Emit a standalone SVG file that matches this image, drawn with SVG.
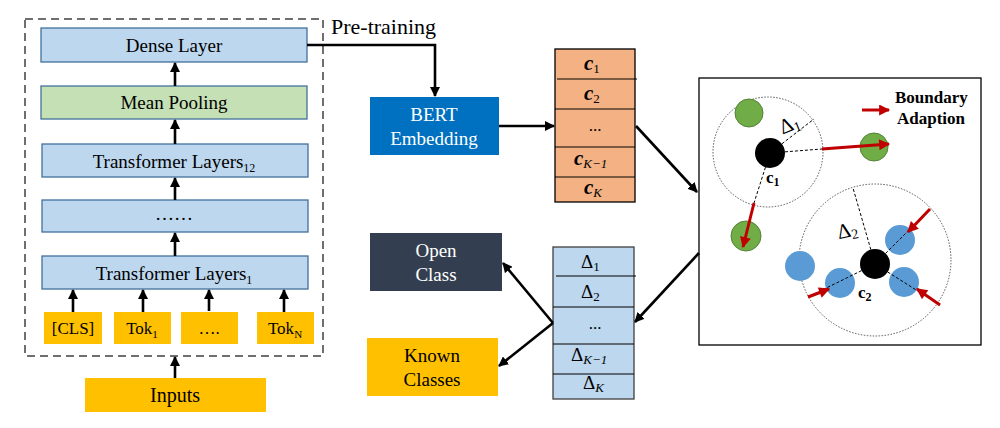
<svg xmlns="http://www.w3.org/2000/svg" width="1000" height="428" viewBox="0 0 1000 428">
<style>
.t{font-family:"Liberation Serif","Times New Roman",serif;fill:#000}
.w{fill:#fff}
.blue{fill:#BDD7EE;stroke:#41719C;stroke-width:1.3}
.green{fill:#C5E0B4;stroke:#41719C;stroke-width:1.3}
.tok{fill:#FFC000}
.ar{stroke:#000;stroke-width:2.6;fill:none}
.red{stroke:#C00000;stroke-width:3;fill:none}
.dl{stroke:#000;stroke-width:1;stroke-dasharray:3,2;fill:none}
.dot{stroke:#555;stroke-width:1;stroke-dasharray:1.5,1.5;fill:none}
.gc{fill:#70AD47;stroke:#548235;stroke-width:1}
.bc{fill:#5B9BD5}
.cm{font-family:"Liberation Serif","Times New Roman",serif;font-weight:bold;font-style:italic}
</style>
<defs>
<marker id="ah" viewBox="0 0 10 10" refX="9" refY="5" markerWidth="10" markerHeight="10" markerUnits="userSpaceOnUse" orient="auto"><path d="M0,0 L10,5 L0,10 z" fill="#000"/></marker>
<marker id="rh" viewBox="0 0 10 10" refX="9" refY="5" markerWidth="12" markerHeight="11" markerUnits="userSpaceOnUse" orient="auto"><path d="M0,0 L10,5 L0,10 z" fill="#C00000"/></marker>
</defs>
<rect width="1000" height="428" fill="#fff"/>

<g id="encoder">
<rect x="25" y="19" width="298" height="337" fill="none" stroke="#404040" stroke-width="1.5" stroke-dasharray="8,5"/>
</g>
<g id="dense"><rect class="blue" x="41" y="28" width="266" height="34"/><text class="t" x="174" y="52" font-size="19" text-anchor="middle">Dense Layer</text></g>
<g id="meanpool"><rect class="green" x="41" y="86" width="266" height="33"/><text class="t" x="174" y="109" font-size="19" text-anchor="middle">Mean Pooling</text></g>
<g id="tl12"><rect class="blue" x="42" y="144" width="266" height="33"/><text class="t" x="174" y="168" font-size="19" text-anchor="middle">Transformer Layers<tspan font-size="12" dy="4">12</tspan></text></g>
<g id="tldots"><rect class="blue" x="42" y="200" width="266" height="32"/><text class="t" x="174" y="220" font-size="19" text-anchor="middle">……</text></g>
<g id="tl1"><rect class="blue" x="42" y="256" width="266" height="33"/><text class="t" x="174" y="280" font-size="19" text-anchor="middle">Transformer Layers<tspan font-size="12" dy="4">1</tspan></text></g>
<g id="cls"><rect class="tok" x="44" y="312" width="58" height="32"/><text class="t" x="73" y="334" font-size="17" text-anchor="middle">[CLS]</text></g>
<g id="tok1"><rect class="tok" x="114" y="312" width="57" height="32"/><text class="t" x="142" y="334" font-size="17" text-anchor="middle">Tok<tspan font-size="11" dy="4">1</tspan></text></g>
<g id="tokdots"><rect class="tok" x="181" y="312" width="57" height="32"/><text class="t" x="209" y="334" font-size="17" text-anchor="middle">….</text></g>
<g id="tokN"><rect class="tok" x="257" y="312" width="57" height="32"/><text class="t" x="285" y="334" font-size="17" text-anchor="middle">Tok<tspan font-size="11" dy="4">N</tspan></text></g>
<g id="inputs"><rect class="tok" x="85" y="378" width="181" height="34"/><text class="t" x="175" y="402" font-size="20" text-anchor="middle">Inputs</text></g>

<g id="bert"><rect x="370" y="97" width="129" height="58" fill="#0070C0"/><text class="t w" x="434" y="121" font-size="19" text-anchor="middle">BERT</text><text class="t w" x="434" y="145" font-size="19" text-anchor="middle">Embedding</text></g>

<g id="centroids">
<rect x="555" y="49" width="80" height="153" fill="#F4B183" stroke="#000" stroke-width="1.3"/>
<g stroke="#000" stroke-width="1"><line x1="557" y1="79" x2="637" y2="79"/><line x1="555" y1="109" x2="635" y2="109"/><line x1="555" y1="147" x2="635" y2="147"/><line x1="555" y1="177" x2="635" y2="177"/></g>
<text class="cm" x="584" y="70" font-size="21">c<tspan font-size="13" dy="3" font-style="normal" font-weight="normal">1</tspan></text>
<text class="cm" x="584" y="100" font-size="21">c<tspan font-size="13" dy="3" font-style="normal" font-weight="normal">2</tspan></text>
<text class="t" x="595" y="131" font-size="17" text-anchor="middle">...</text>
<text class="cm" x="574" y="165" font-size="21">c<tspan font-size="13" dy="3" font-style="italic" font-weight="normal">K−1</tspan></text>
<text class="cm" x="584" y="194" font-size="21">c<tspan font-size="13" dy="3" font-weight="normal">K</tspan></text>
</g>

<g id="deltas">
<rect x="553" y="247" width="81" height="152" fill="#BDD7EE" stroke="#404040" stroke-width="1.3"/>
<g stroke="#000" stroke-width="1"><line x1="556" y1="276" x2="636" y2="276"/><line x1="553" y1="307" x2="634" y2="307"/><line x1="553" y1="344" x2="634" y2="344"/><line x1="553" y1="374" x2="634" y2="374"/></g>
<text class="t" x="581" y="268" font-size="19">Δ<tspan font-size="13" dy="3">1</tspan></text>
<text class="t" x="581" y="298" font-size="19">Δ<tspan font-size="13" dy="3">2</tspan></text>
<text class="t" x="595" y="329" font-size="17" text-anchor="middle">...</text>
<text class="t" x="571" y="361" font-size="19">Δ<tspan font-size="13" dy="3" font-style="italic">K−1</tspan></text>
<text class="t" x="583" y="389" font-size="19">Δ<tspan font-size="13" dy="3" font-style="italic">K</tspan></text>
</g>

<g id="openclass"><rect x="370" y="233" width="132" height="58" fill="#333F50"/><text class="t w" x="436" y="257" font-size="19" text-anchor="middle">Open</text><text class="t w" x="436" y="281" font-size="19" text-anchor="middle">Class</text></g>
<g id="known"><rect x="367" y="338" width="131" height="58" fill="#FFC000"/><text class="t" x="432" y="362" font-size="19" text-anchor="middle">Known</text><text class="t" x="432" y="386" font-size="19" text-anchor="middle">Classes</text></g>

<g id="panel">
<rect x="699" y="78" width="282" height="267" fill="#fff" stroke="#000" stroke-width="1.3"/>
<circle class="dot" cx="768" cy="152" r="55"/>
<circle class="dot" cx="875" cy="260" r="76"/>
<circle class="gc" cx="749" cy="113" r="14"/>
<circle class="gc" cx="874" cy="147" r="14"/>
<circle class="gc" cx="746" cy="236" r="15"/>
<circle class="bc" cx="900" cy="240" r="15"/>
<circle class="bc" cx="800" cy="266" r="15"/>
<circle class="bc" cx="840" cy="283" r="15"/>
<circle class="bc" cx="904" cy="282" r="15"/>
<line class="dl" x1="770" y1="153" x2="814" y2="119"/>
<line class="dl" x1="770" y1="153" x2="822" y2="149"/>
<line class="dl" x1="770" y1="153" x2="754" y2="203"/>
<line class="dl" x1="875" y1="264" x2="853" y2="188"/>
<line class="dl" x1="875" y1="264" x2="930" y2="209"/>
<line class="dl" x1="875" y1="264" x2="808" y2="297"/>
<line class="dl" x1="875" y1="264" x2="940" y2="305"/>
<circle cx="770" cy="153" r="15" fill="#000"/>
<circle cx="875" cy="264" r="15" fill="#000"/>
<line class="red" x1="822" y1="149" x2="889" y2="144" marker-end="url(#rh)"/>
<line class="red" x1="754" y1="203" x2="743" y2="247" marker-end="url(#rh)"/>
<line class="red" x1="930" y1="209" x2="908" y2="232" marker-end="url(#rh)"/>
<line class="red" x1="808" y1="297" x2="829" y2="289" marker-end="url(#rh)"/>
<line class="red" x1="940" y1="305" x2="917" y2="289" marker-end="url(#rh)"/>
<text class="t" x="779" y="131" font-size="21" transform="rotate(-22 790 124)">Δ<tspan font-size="14" dy="3">1</tspan></text>
<text class="t" x="837" y="237" font-size="21" transform="rotate(-12 848 230)">Δ<tspan font-size="14" dy="3">2</tspan></text>
<text class="t" x="766" y="183" font-size="17" font-weight="bold">c<tspan font-size="12" dy="3">1</tspan></text>
<text class="t" x="858" y="298" font-size="17" font-weight="bold">c<tspan font-size="12" dy="3">2</tspan></text>
<line class="red" x1="862" y1="110" x2="889" y2="110" marker-end="url(#rh)"/>
<text class="t" x="895" y="103" font-size="17" font-weight="bold">Boundary</text>
<text class="t" x="897" y="124" font-size="17" font-weight="bold">Adaption</text>
</g>

<g id="connectors">
<line class="ar" x1="175" y1="86" x2="175" y2="63" marker-end="url(#ah)"/>
<line class="ar" x1="175" y1="144" x2="175" y2="120" marker-end="url(#ah)"/>
<line class="ar" x1="175" y1="200" x2="175" y2="178" marker-end="url(#ah)"/>
<line class="ar" x1="175" y1="256" x2="175" y2="233" marker-end="url(#ah)"/>
<line class="ar" x1="73" y1="312" x2="73" y2="290" marker-end="url(#ah)"/>
<line class="ar" x1="143" y1="312" x2="143" y2="290" marker-end="url(#ah)"/>
<line class="ar" x1="209" y1="311" x2="209" y2="290" marker-end="url(#ah)"/>
<line class="ar" x1="284" y1="312" x2="284" y2="290" marker-end="url(#ah)"/>
<line class="ar" x1="175" y1="378" x2="175" y2="357" marker-end="url(#ah)"/>
<polyline class="ar" points="307,45 435,45 435,96" marker-end="url(#ah)"/>
<text class="t" x="331" y="34" font-size="22">Pre-training</text>
<line class="ar" x1="499" y1="126" x2="554" y2="126" marker-end="url(#ah)"/>
<line class="ar" x1="636" y1="126" x2="697" y2="192" marker-end="url(#ah)"/>
<line class="ar" x1="699" y1="253" x2="635" y2="322" marker-end="url(#ah)"/>
<line class="ar" x1="553" y1="323" x2="503" y2="263" marker-end="url(#ah)"/>
<line class="ar" x1="553" y1="323" x2="499" y2="366" marker-end="url(#ah)"/>
</g>
</svg>
